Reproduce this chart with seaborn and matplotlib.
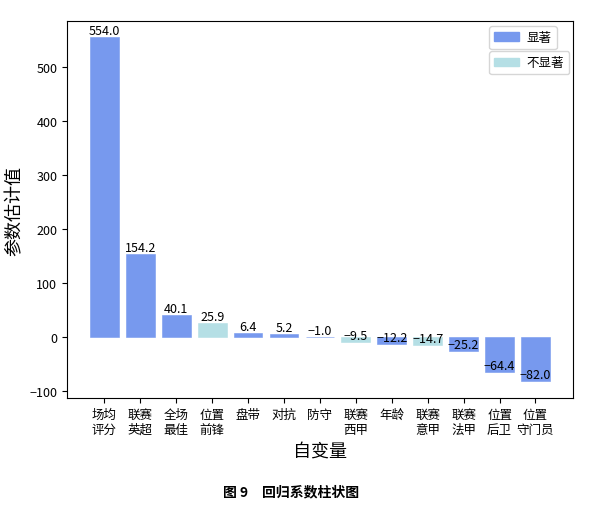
import matplotlib
matplotlib.use("Agg")
import matplotlib.pyplot as plt
import seaborn as sns
import pandas as pd
from matplotlib.patches import Patch

categories = ["场均\n评分", "联赛\n英超", "全场\n最佳", "位置\n前锋", "盘带", "对抗", "防守",
              "联赛\n西甲", "年龄", "联赛\n意甲", "联赛\n法甲", "位置\n后卫", "位置\n守门员"]
values = [554.0, 154.2, 40.1, 25.9, 6.4, 5.2, -1.0, -9.5, -12.2, -14.7, -25.2, -64.4, -82.0]
significance = ["显著", "显著", "显著", "不显著", "显著", "显著", "显著",
                "不显著", "显著", "不显著", "显著", "显著", "显著"]

plt.rcParams['font.family'] = ['Noto Sans CJK SC', 'DejaVu Sans']
plt.rcParams['axes.unicode_minus'] = True

df = pd.DataFrame({"var": categories, "val": values, "sig": significance})
colors = {"显著": "#7799EE", "不显著": "#B5DFE5"}

fig = plt.figure(figsize=(5.93, 5.10), dpi=100)
ax = fig.add_axes([0.113, 0.2176, 0.853, 0.739])
sns.barplot(data=df, x="var", y="val", hue="sig", palette=colors, dodge=False,
            width=0.8, ax=ax, legend=False, saturation=1)
for p in ax.patches:
    p.set_edgecolor(p.get_facecolor())
    p.set_linewidth(0.4)
for i, v in enumerate(values):
    ax.text(i, v, f"{v:.1f}".replace("-", "\u2212"), ha="center", va="bottom", fontsize=9)
ax.set_xlim(-1.04, 13.04)
ax.set_ylim(-113, 584)
ax.set_xlabel("自变量", fontsize=13)
ax.set_ylabel("参数估计值", fontsize=13)
ax.tick_params(labelsize=9)

leg1 = ax.legend(handles=[Patch(color=colors["显著"], label="显著")], loc="upper left",
                 bbox_to_anchor=(0.835, 0.987), borderaxespad=0, fontsize=9,
                 handletextpad=0.6)
ax.add_artist(leg1)
ax.legend(handles=[Patch(color=colors["不显著"], label="不显著")], loc="upper left",
          bbox_to_anchor=(0.835, 0.92), borderaxespad=0, fontsize=9, handletextpad=0.6)

fig.text(0.49, 0.035, "图 9　回归系数柱状图", ha="center", va="center", fontsize=10,
         fontweight="bold")
fig.savefig("out.png", dpi=100)
